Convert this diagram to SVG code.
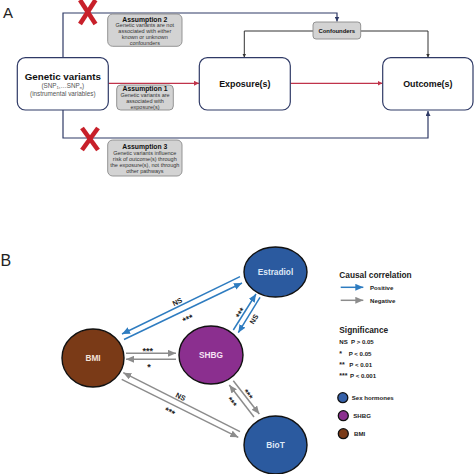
<svg xmlns="http://www.w3.org/2000/svg" width="474" height="474" viewBox="0 0 474 474">
<style>
text{font-family:"Liberation Sans",Arial,sans-serif}
.panel{font-size:15px;fill:#222}
.box{fill:#fff;stroke:#2f3a66;stroke-width:1.2}
.abox{fill:#d3d3d3;stroke:#8a8a8a;stroke-width:0.9}
.big{font-size:9.8px;font-weight:bold;fill:#111;text-anchor:middle}
.mid{font-size:8.9px;font-weight:bold;fill:#111;text-anchor:middle}
.sub{font-size:6.3px;fill:#555;text-anchor:middle}
.ah{font-size:6.8px;font-weight:bold;fill:#111;text-anchor:middle}
.at{font-size:5.5px;fill:#333;text-anchor:middle}
.navy{fill:none;stroke:#2f3a66;stroke-width:1.2}
.blk{fill:none;stroke:#333;stroke-width:1}
.red{fill:none;stroke:#c0334a;stroke-width:1.3}
.xmark{stroke:#c8202a;stroke-width:4.6;stroke-linecap:butt}
.blue{stroke:#2e7cc0;stroke-width:1.5;fill:none}
.gray{stroke:#8c8c8c;stroke-width:1.5;fill:none}
.lab{font-size:7.2px;font-weight:bold;fill:#222;text-anchor:middle}
.ast{font-size:9px;font-weight:bold;fill:#222;text-anchor:middle}
.node{stroke:#111;stroke-width:1.4}
.ntxt{font-size:8.3px;font-weight:bold;text-anchor:middle}
.lg{font-size:8.3px;font-weight:bold;fill:#222}
.ls{font-size:6.1px;font-weight:bold;fill:#222}
</style>
<defs>
<marker id="mNavy" markerUnits="userSpaceOnUse" markerWidth="6" markerHeight="5" refX="5" refY="2.5" orient="auto"><path d="M0,0 L5,2.5 L0,5 z" fill="#2f3a66"/></marker>
<marker id="mBlk" markerUnits="userSpaceOnUse" markerWidth="5" markerHeight="4" refX="4" refY="2" orient="auto"><path d="M0,0 L4,2 L0,4 z" fill="#333"/></marker>
<marker id="mRed" markerUnits="userSpaceOnUse" markerWidth="6" markerHeight="5" refX="5" refY="2.5" orient="auto"><path d="M0,0 L5,2.5 L0,5 z" fill="#c0334a"/></marker>
<marker id="mBlue" markerUnits="userSpaceOnUse" markerWidth="9" markerHeight="7" refX="8" refY="3.5" orient="auto"><path d="M0,0 L8,3.5 L0,7 z" fill="#2e7cc0"/></marker>
<marker id="mGray" markerUnits="userSpaceOnUse" markerWidth="9" markerHeight="7" refX="8" refY="3.5" orient="auto"><path d="M0,0 L8,3.5 L0,7 z" fill="#8c8c8c"/></marker>
</defs>
<rect width="474" height="474" fill="#fff"/>

<text class="panel" x="3" y="18.3">A</text>
<text class="panel" x="0.5" y="266" style="font-size:16px">B</text>

<!-- Panel A connectors -->
<g id="connectorsA">
<polyline class="navy" points="63,57.7 63,13 337,13 337,21.5" marker-end="url(#mNavy)"/>
<polyline class="navy" points="63,110 63,138 428,138 428,111" marker-end="url(#mNavy)"/>
<line class="red" x1="108.3" y1="83.3" x2="199" y2="83.3" marker-end="url(#mRed)"/>
<line class="red" x1="290.3" y1="83.3" x2="382.5" y2="83.3" marker-end="url(#mRed)"/>
<polyline class="blk" points="313,31 244.3,31 244.3,57.5" marker-end="url(#mBlk)"/>
<polyline class="blk" points="360.7,31 428,31 428,57.5" marker-end="url(#mBlk)"/>
<g id="xTop"><line class="xmark" x1="80" y1="0" x2="95.5" y2="24"/><line class="xmark" x1="95.5" y1="0" x2="80" y2="24"/></g>
<g id="xBottom"><line class="xmark" x1="82" y1="128" x2="98" y2="150"/><line class="xmark" x1="98" y1="128" x2="82" y2="150"/></g>
</g>

<g id="genetic">
<rect class="box" x="17.3" y="57.7" width="91" height="52.3" rx="8"/>
<text class="big" x="62.8" y="79.5">Genetic variants</text>
<text class="sub" x="62.8" y="87.6">(SNP<tspan font-size="4.2" dy="1.2">1</tspan><tspan dy="-1.2">,…SNP</tspan><tspan font-size="4.2" dy="1.2">n</tspan><tspan dy="-1.2">)</tspan></text>
<text class="sub" x="62.8" y="95.5">(instrumental variables)</text>
</g>
<g id="exposure">
<rect class="box" x="199.3" y="57.7" width="91" height="52.3" rx="8"/>
<text class="mid" x="244.8" y="86.5">Exposure(s)</text>
</g>
<g id="outcome">
<rect class="box" x="382.7" y="57.7" width="90.3" height="52.3" rx="8"/>
<text class="mid" x="427.8" y="86.5">Outcome(s)</text>
</g>
<g id="confounders">
<rect class="abox" x="313" y="22" width="47.7" height="17" rx="3"/>
<text class="ah" x="336.8" y="32.9" style="font-size:5.9px">Confounders</text>
</g>
<g id="assumption2">
<rect class="abox" x="107.7" y="14" width="74.3" height="32.3" rx="5"/>
<text class="ah" x="144.8" y="21.5">Assumption 2</text>
<text class="at" x="144.8" y="27">Genetic variants are not</text>
<text class="at" x="144.8" y="33">associated with either</text>
<text class="at" x="144.8" y="39">known or unknown</text>
<text class="at" x="144.8" y="45">confounders</text>
</g>
<g id="assumption1">
<rect class="abox" x="116.7" y="85" width="56.6" height="25" rx="4"/>
<text class="ah" x="145" y="91.2">Assumption 1</text>
<text class="at" x="145" y="97">Genetic variants are</text>
<text class="at" x="145" y="102.8">associated with</text>
<text class="at" x="145" y="108.6">exposure(s)</text>
</g>
<g id="assumption3">
<rect class="abox" x="107.7" y="140" width="74.3" height="36" rx="5"/>
<text class="ah" x="144.8" y="148.5">Assumption 3</text>
<text class="at" x="144.8" y="154.7">Genetic variants influence</text>
<text class="at" x="144.8" y="160.9">risk of outcome(s) through</text>
<text class="at" x="144.8" y="167">the exposure(s), not through</text>
<text class="at" x="144.8" y="173.1">other pathways</text>
</g>

<!-- Panel B connectors -->
<g id="connectorsB">
<line class="blue" x1="240" y1="276.7" x2="122" y2="334" marker-end="url(#mBlue)"/>
<line class="blue" x1="124" y1="339.5" x2="242" y2="283" marker-end="url(#mBlue)"/>
<line class="blue" x1="233.3" y1="330" x2="256" y2="294" marker-end="url(#mBlue)"/>
<line class="blue" x1="260" y1="297.3" x2="238.3" y2="332.7" marker-end="url(#mBlue)"/>
<line class="gray" x1="126" y1="353.3" x2="176" y2="353.3" marker-end="url(#mGray)"/>
<line class="gray" x1="176" y1="359.3" x2="126" y2="359.3" marker-end="url(#mGray)"/>
<line class="gray" x1="240" y1="431.7" x2="123.3" y2="372.7" marker-end="url(#mGray)"/>
<line class="gray" x1="121.7" y1="379.3" x2="238.3" y2="437.3" marker-end="url(#mGray)"/>
<line class="gray" x1="254" y1="417" x2="229.3" y2="385" marker-end="url(#mGray)"/>
<line class="gray" x1="233.3" y1="380.7" x2="259.3" y2="414" marker-end="url(#mGray)"/>
<text class="lab" transform="translate(178.4,304) rotate(-26)">NS</text>
<text class="ast" transform="translate(189.3,321.7) rotate(-26)">***</text>
<text class="ast" transform="translate(243.4,314.8) rotate(-58)">***</text>
<text class="lab" transform="translate(256.2,320.4) rotate(-58)">NS</text>
<text class="ast" x="147.7" y="353.5">***</text>
<text class="ast" x="149" y="370.2">*</text>
<text class="lab" transform="translate(179.5,399) rotate(27)">NS</text>
<text class="ast" transform="translate(168.3,414.6) rotate(27)">***</text>
<text class="ast" transform="translate(245.2,396.5) rotate(52)">***</text>
<text class="ast" transform="translate(229.2,404.2) rotate(52)">***</text>
</g>

<g id="estradiol">
<ellipse class="node" cx="275.5" cy="272" rx="31.5" ry="25" fill="#2b5a9f"/>
<text class="ntxt" x="275.5" y="275" fill="#dfe8f6">Estradiol</text>
</g>
<g id="bmi">
<ellipse class="node" cx="93" cy="358" rx="31" ry="29" fill="#7a3a17"/>
<text class="ntxt" x="93" y="361" fill="#f3e4da">BMI</text>
</g>
<g id="shbg">
<ellipse class="node" cx="211" cy="355" rx="32" ry="29" fill="#8b2f8f"/>
<text class="ntxt" x="211" y="358" fill="#f6e2f4">SHBG</text>
</g>
<g id="biot">
<ellipse class="node" cx="275.5" cy="445" rx="31.5" ry="29" fill="#2b5a9f"/>
<text class="ntxt" x="275.5" y="448" fill="#dfe8f6">BioT</text>
</g>

<g id="legend">
<text class="lg" x="339.3" y="278.3">Causal correlation</text>
<line class="blue" x1="340.7" y1="287.3" x2="363.3" y2="287.3" marker-end="url(#mBlue)"/>
<text class="ls" x="370" y="289.5">Positive</text>
<line class="gray" x1="340.7" y1="300.3" x2="363.3" y2="300.3" marker-end="url(#mGray)"/>
<text class="ls" x="370" y="302.5">Negative</text>
<text class="lg" x="339.3" y="333">Significance</text>
<text class="ls" x="339.3" y="344.2">NS</text><text class="ls" x="351" y="344.2">P &gt; 0.05</text>
<text class="ls" x="339.3" y="356" style="font-size:7px">*</text><text class="ls" x="348.7" y="355.5">P &lt; 0.05</text>
<text class="ls" x="339.3" y="367" style="font-size:7px">**</text><text class="ls" x="349.3" y="366.5">P &lt; 0.01</text>
<text class="ls" x="339.3" y="378" style="font-size:7px">***</text><text class="ls" x="350" y="377.5">P &lt; 0.001</text>
<circle cx="342.8" cy="397.7" r="5" fill="#3560a8" stroke="#111" stroke-width="1.3"/>
<text class="ls" x="351.7" y="399.8">Sex hormones</text>
<circle cx="343.3" cy="415.7" r="5" fill="#8b2f8f" stroke="#111" stroke-width="1.3"/>
<text class="ls" x="353.3" y="417.8">SHBG</text>
<circle cx="343.3" cy="433.7" r="5" fill="#7a3a17" stroke="#111" stroke-width="1.3"/>
<text class="ls" x="354" y="435.8">BMI</text>
</g>
</svg>
